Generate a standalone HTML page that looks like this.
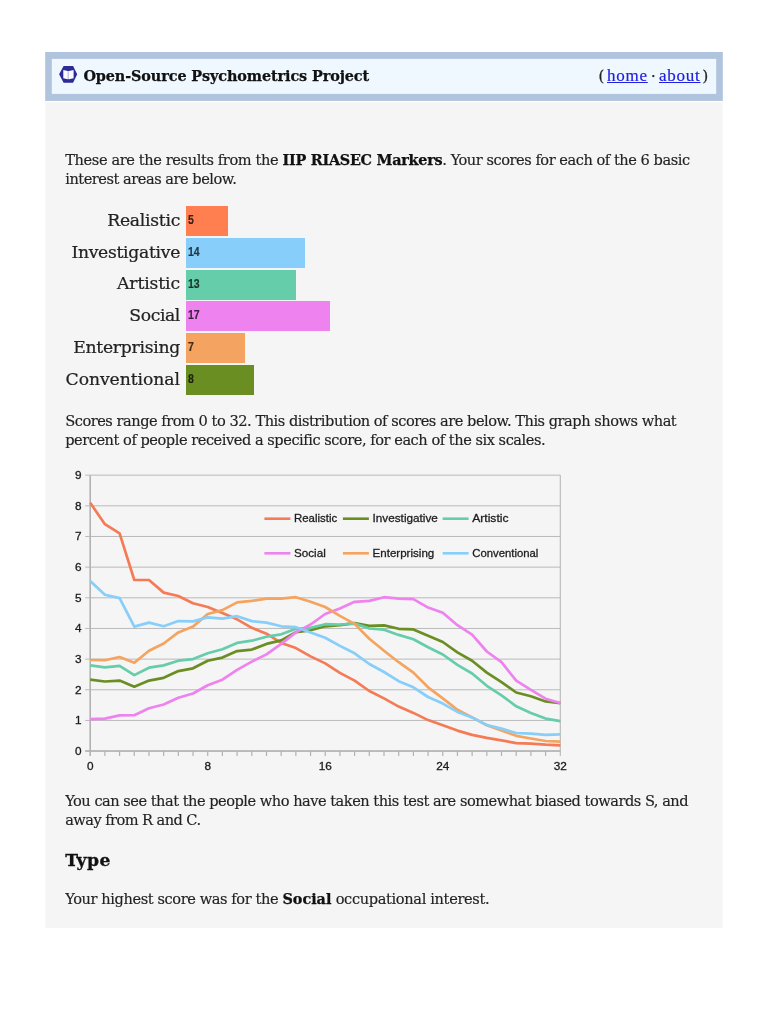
<!DOCTYPE html>
<html lang="en">
<head>
<meta charset="utf-8">
<title>IIP RIASEC Markers - Results</title>
<style>
html,body{margin:0;padding:0;background:#fff;}
body{width:768px;height:1024px;position:relative;overflow:hidden;font-family:"DejaVu Serif","Liberation Serif",serif;color:#222;font-size:14.6px;line-height:20px;}
#bg{position:absolute;left:0;top:0;}
.ln{position:absolute;margin:0;white-space:nowrap;line-height:20px;font-size:14.6px;font-weight:normal;-webkit-text-stroke:0.15px #222;}
p.ln{line-height:19.4px;}
.ln b{font-size:14.4px;font-weight:bold;color:#111;-webkit-text-stroke:0.25px #111;}
h1.ttl{font-size:14.4px;font-weight:bold;color:#111;-webkit-text-stroke:0.25px #111;}
h3.ln{font-size:17.2px;font-weight:bold;color:#111;-webkit-text-stroke:0.3px #111;}
.lab{font-size:17.2px;text-align:right;-webkit-text-stroke:0.22px #222;}
.nav{font-size:14.58px;-webkit-text-stroke:0.3px #222;width:112px;height:20px;}
.nav span,.nav a{position:absolute;top:0;left:0;}
.nav a{font-family:"Liberation Serif",serif;font-size:17px;letter-spacing:.75px;color:#2020e0;text-decoration:underline;cursor:pointer;-webkit-text-stroke:0.2px #2020e0;}
.bar{position:absolute;left:185.8px;height:29.8px;display:block;}
.num{position:absolute;left:2.2px;top:6.9px;font-family:"Liberation Sans",sans-serif;font-weight:bold;font-size:12.5px;line-height:14px;height:14px;color:rgba(0,0,0,.74);-webkit-text-stroke:0.18px rgba(0,0,0,.74);transform:scaleX(.84);transform-origin:0 50%;white-space:nowrap;}
</style>
</head>
<body>
<svg id="bg" width="768" height="1024" viewBox="0 0 768 1024">
<rect x="45.3" y="52" width="677.3" height="875.9" fill="#f5f5f5"/>
<rect x="45.3" y="100.9" width="677.4" height="1.6" fill="#fcfcfc"/>
<rect x="45.2" y="52" width="677.6" height="48.9" fill="#b0c4de"/>
<rect x="51.8" y="58.9" width="664.4" height="35" fill="#f0f8ff"/>
<g id="logo"><polygon points="63.6,65.9 73.1,65.9 77.2,74.3 73.1,82.7 63.6,82.7 59.1,74.3" fill="#2d2b96"/><path d="M63.3 70.1L67.9 71.1V79.2L63.3 78.2Z M73.6 70.1L69 71.1V79.2L73.6 78.2Z" fill="#fbfaff"/><path d="M67.9 71.1H69V79.2H67.9Z" fill="#c9c6e6"/></g>
</svg>

<header>
<h1 class="ln ttl" style="left:83.40px;top:66.14px;letter-spacing:-0.100px">Open-Source Psychometrics Project</h1>
<nav class="ln nav" style="left:598.6px;top:65.75px"><span>(</span><a href="#home" style="left:8.4px">home</a><span style="left:52.4px">·</span><a href="#about" style="left:60.4px">about</a><span style="left:104px">)</span></nav>
</header>
<main>
<p class="ln" style="left:65.20px;top:149.75px"><span style="letter-spacing:-0.388px">These are the results from the </span><b style="letter-spacing:-0.269px">IIP RIASEC Markers</b><span style="letter-spacing:-0.469px">. Your scores for each of the 6 basic</span><br>
<span style="letter-spacing:-0.479px">interest areas are below.</span></p>
<section id="scores">
<div class="row"><span class="ln lab" style="left:107.25px;top:210.35px;letter-spacing:-0.274px">Realistic</span><span class="bar" style="top:205.9px;width:42.1px;background:#ff7f50"><span class="num">5</span></span></div>
<div class="row"><span class="ln lab" style="left:71.47px;top:242.25px;letter-spacing:-0.305px">Investigative</span><span class="bar" style="top:238.0px;width:119.2px;background:#87cefa"><span class="num">14</span></span></div>
<div class="row"><span class="ln lab" style="left:117.00px;top:273.25px;letter-spacing:-0.111px">Artistic</span><span class="bar" style="top:270.0px;width:110.4px;background:#66cdaa"><span class="num">13</span></span></div>
<div class="row"><span class="ln lab" style="left:129.31px;top:305.05px;letter-spacing:-0.385px">Social</span><span class="bar" style="top:301.1px;width:144.5px;background:#ee82ee"><span class="num">17</span></span></div>
<div class="row"><span class="ln lab" style="left:73.22px;top:337.05px;letter-spacing:-0.270px">Enterprising</span><span class="bar" style="top:333.0px;width:59.3px;background:#f4a460"><span class="num">7</span></span></div>
<div class="row"><span class="ln lab" style="left:65.56px;top:368.85px;letter-spacing:-0.055px">Conventional</span><span class="bar" style="top:365.0px;width:68.2px;background:#6b8e23"><span class="num">8</span></span></div>
</section>
<p class="ln" style="left:65.20px;top:411.05px"><span style="letter-spacing:-0.478px">Scores range from 0 to 32. This distribution of scores are below. This graph shows what</span><br>
<span style="letter-spacing:-0.472px">percent of people received a specific score, for each of the six scales.</span></p>
<!--CHART-->
<svg id="chart" width="768" height="1024" viewBox="0 0 768 1024" style="position:absolute;left:0;top:0;overflow:visible" font-family="Liberation Sans, Arial, sans-serif" font-size="11.8">
<path d="M85.20 751.10H560.28M85.20 720.44H560.28M85.20 689.78H560.28M85.20 659.12H560.28M85.20 628.46H560.28M85.20 597.80H560.28M85.20 567.14H560.28M85.20 536.48H560.28M85.20 505.82H560.28M85.20 475.16H560.28" stroke="#bababa" stroke-width="1.0" fill="none"/>
<path d="M90.20 475.16V756.10" stroke="#b2b2b2" stroke-width="1.6" fill="none"/>
<path d="M85.20 751.10H560.28" stroke="#b2b2b2" stroke-width="1.5" fill="none"/>
<path d="M560.28 475.16V756.10" stroke="#b2b2b2" stroke-width="1" fill="none"/>
<path d="M104.89 751.10v5M119.58 751.10v5M134.27 751.10v5M148.96 751.10v5M163.65 751.10v5M178.34 751.10v5M193.03 751.10v5M207.72 751.10v5M222.41 751.10v5M237.10 751.10v5M251.79 751.10v5M266.48 751.10v5M281.17 751.10v5M295.86 751.10v5M310.55 751.10v5M325.24 751.10v5M339.93 751.10v5M354.62 751.10v5M369.31 751.10v5M384.00 751.10v5M398.69 751.10v5M413.38 751.10v5M428.07 751.10v5M442.76 751.10v5M457.45 751.10v5M472.14 751.10v5M486.83 751.10v5M501.52 751.10v5M516.21 751.10v5M530.90 751.10v5M545.59 751.10v5" stroke="#b2b2b2" stroke-width="1.2" fill="none"/>
<polyline points="90.2,502.8 104.9,524.2 119.6,533.4 134.3,580.0 149.0,580.0 163.7,592.6 178.3,596.0 193.0,603.3 207.7,607.0 222.4,613.1 237.1,619.3 251.8,627.8 266.5,633.7 281.2,642.9 295.9,648.1 310.6,656.4 325.2,663.4 339.9,672.9 354.6,680.6 369.3,691.0 384.0,698.4 398.7,706.6 413.4,712.9 428.1,720.1 442.8,725.3 457.4,730.6 472.1,734.9 486.8,737.9 501.5,740.4 516.2,743.1 530.9,743.7 545.6,744.7 560.3,745.3" fill="none" stroke="#f47b55" stroke-width="2.7" stroke-linejoin="round" stroke-linecap="butt"/>
<polyline points="90.2,679.7 104.9,681.5 119.6,680.6 134.3,686.7 149.0,680.6 163.7,677.8 178.3,671.1 193.0,668.3 207.7,660.7 222.4,657.6 237.1,651.1 251.8,649.6 266.5,643.9 281.2,640.4 295.9,632.1 310.6,630.3 325.2,626.3 339.9,625.1 354.6,623.2 369.3,625.9 384.0,625.4 398.7,628.8 413.4,629.4 428.1,635.7 442.8,642.0 457.4,652.4 472.1,660.7 486.8,672.6 501.5,682.1 516.2,692.5 530.9,696.2 545.6,701.4 560.3,703.1" fill="none" stroke="#6b8e23" stroke-width="2.7" stroke-linejoin="round" stroke-linecap="butt"/>
<polyline points="90.2,665.3 104.9,667.4 119.6,665.9 134.3,675.1 149.0,667.7 163.7,665.4 178.3,660.7 193.0,659.1 207.7,653.3 222.4,649.3 237.1,642.9 251.8,640.7 266.5,636.7 281.2,634.3 295.9,628.8 310.6,627.8 325.2,624.2 339.9,624.5 354.6,623.6 369.3,628.5 384.0,629.7 398.7,634.9 413.4,639.2 428.1,647.2 442.8,654.5 457.4,664.9 472.1,673.5 486.8,685.8 501.5,695.3 516.2,706.3 530.9,712.9 545.6,718.6 560.3,721.2" fill="none" stroke="#66cdaa" stroke-width="2.7" stroke-linejoin="round" stroke-linecap="butt"/>
<polyline points="90.2,719.2 104.9,718.6 119.6,715.4 134.3,715.2 149.0,708.3 163.7,704.5 178.3,697.8 193.0,693.5 207.7,685.2 222.4,679.7 237.1,669.9 251.8,661.6 266.5,654.4 281.2,643.9 295.9,632.4 310.6,624.5 325.2,614.0 339.9,608.5 354.6,601.8 369.3,600.9 384.0,597.2 398.7,598.7 413.4,599.2 428.1,607.6 442.8,612.8 457.4,625.2 472.1,634.6 486.8,651.5 501.5,662.2 516.2,680.6 530.9,689.8 545.6,698.7 560.3,703.0" fill="none" stroke="#ee82ee" stroke-width="2.7" stroke-linejoin="round" stroke-linecap="butt"/>
<polyline points="90.2,660.0 104.9,660.2 119.6,657.0 134.3,662.8 149.0,650.8 163.7,643.5 178.3,632.4 193.0,626.6 207.7,614.0 222.4,610.1 237.1,602.4 251.8,600.9 266.5,598.6 281.2,598.7 295.9,597.2 310.6,601.8 325.2,607.0 339.9,615.9 354.6,623.9 369.3,638.7 384.0,650.8 398.7,662.2 413.4,672.6 428.1,687.3 442.8,698.4 457.4,709.7 472.1,717.4 486.8,725.3 501.5,730.6 516.2,735.8 530.9,738.5 545.6,741.0 560.3,741.6" fill="none" stroke="#f4a460" stroke-width="2.7" stroke-linejoin="round" stroke-linecap="butt"/>
<polyline points="90.2,580.9 104.9,594.7 119.6,598.1 134.3,626.6 149.0,622.6 163.7,626.3 178.3,621.1 193.0,621.4 207.7,617.4 222.4,618.6 237.1,616.2 251.8,621.1 266.5,622.6 281.2,626.3 295.9,627.2 310.6,632.4 325.2,637.7 339.9,645.9 354.6,653.3 369.3,664.0 384.0,672.0 398.7,681.2 413.4,687.3 428.1,697.0 442.8,703.6 457.4,711.9 472.1,717.4 486.8,725.0 501.5,728.6 516.2,733.0 530.9,733.6 545.6,734.9 560.3,734.4" fill="none" stroke="#87cefa" stroke-width="2.7" stroke-linejoin="round" stroke-linecap="butt"/>
<g fill="#1c1c1c" stroke="#1c1c1c" stroke-width="0.3">
<text x="81.6" y="755.0" text-anchor="end">0</text>
<text x="81.6" y="724.3" text-anchor="end">1</text>
<text x="81.6" y="693.7" text-anchor="end">2</text>
<text x="81.6" y="663.0" text-anchor="end">3</text>
<text x="81.6" y="632.4" text-anchor="end">4</text>
<text x="81.6" y="601.7" text-anchor="end">5</text>
<text x="81.6" y="571.0" text-anchor="end">6</text>
<text x="81.6" y="540.4" text-anchor="end">7</text>
<text x="81.6" y="509.7" text-anchor="end">8</text>
<text x="81.6" y="479.1" text-anchor="end">9</text>
<text x="90.2" y="770.3" text-anchor="middle">0</text>
<text x="207.7" y="770.3" text-anchor="middle">8</text>
<text x="325.2" y="770.3" text-anchor="middle">16</text>
<text x="442.8" y="770.3" text-anchor="middle">24</text>
<text x="560.3" y="770.3" text-anchor="middle">32</text>
<text x="294.0" y="522.0" textLength="43.2" lengthAdjust="spacingAndGlyphs">Realistic</text>
<text x="372.5" y="522.0" textLength="65.4" lengthAdjust="spacingAndGlyphs">Investigative</text>
<text x="472.2" y="522.0" textLength="36.3" lengthAdjust="spacingAndGlyphs">Artistic</text>
<text x="294.0" y="557.1" textLength="31.8" lengthAdjust="spacingAndGlyphs">Social</text>
<text x="372.5" y="557.1" textLength="61.8" lengthAdjust="spacingAndGlyphs">Enterprising</text>
<text x="472.2" y="557.1" textLength="66.2" lengthAdjust="spacingAndGlyphs">Conventional</text>
</g>
<path d="M264.4 518.7h26" stroke="#f47b55" stroke-width="2.6" fill="none"/>
<path d="M342.9 518.7h26" stroke="#6b8e23" stroke-width="2.6" fill="none"/>
<path d="M442.6 518.7h26" stroke="#66cdaa" stroke-width="2.6" fill="none"/>
<path d="M264.4 553.3h26" stroke="#ee82ee" stroke-width="2.6" fill="none"/>
<path d="M342.9 553.3h26" stroke="#f4a460" stroke-width="2.6" fill="none"/>
<path d="M442.6 553.3h26" stroke="#87cefa" stroke-width="2.6" fill="none"/>
</svg>
<!--/CHART-->
<p class="ln" style="left:65.20px;top:790.85px"><span style="letter-spacing:-0.498px">You can see that the people who have taken this test are somewhat biased towards S, and</span><br>
<span style="letter-spacing:-0.562px">away from R and C.</span></p>
<h3 class="ln" style="left:65.2px;top:849.95px;letter-spacing:0.484px">Type</h3>
<p class="ln" style="left:65.20px;top:888.95px"><span style="letter-spacing:-0.411px">Your highest score was for the </span><b style="letter-spacing:-0.013px">Social</b><span style="letter-spacing:-0.359px"> occupational interest.</span></p>
</main>
</body>
</html>
